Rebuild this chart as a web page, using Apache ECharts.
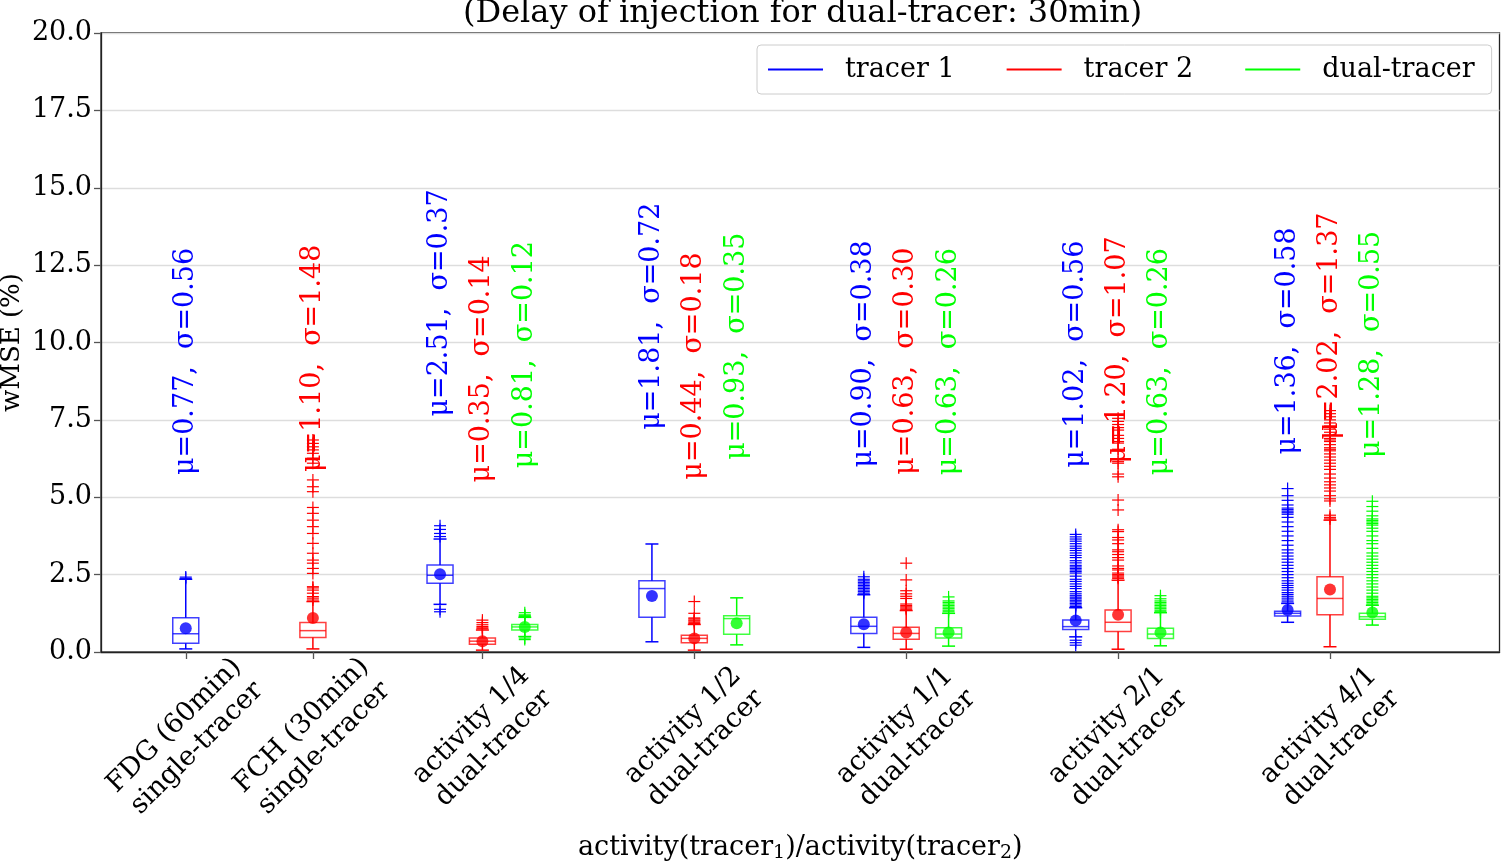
<!DOCTYPE html>
<html>
<head>
<meta charset="utf-8">
<script src="https://cdn.jsdelivr.net/npm/echarts@6/dist/echarts.min.js"></script>
<style>
  html, body { margin: 0; padding: 0; background: #fff; }
  #chart { width: 1501px; height: 861px; }
</style>
</head>
<body>
<div id="chart"></div>
<script>
// group names on the x axis
const groupLabels = [
  'FDG (60min)\nsingle-tracer',
  'FCH (30min)\nsingle-tracer',
  'activity 1/4\ndual-tracer',
  'activity 1/2\ndual-tracer',
  'activity 1/1\ndual-tracer',
  'activity 2/1\ndual-tracer',
  'activity 4/1\ndual-tracer'
];

// box stats: [whisker low, q1, median, q3, whisker high]
const tracer1Stats = [
  [0.10, 0.28, 0.59, 1.11, 2.35],
  [1.54, 2.22, 2.48, 2.81, 3.65],
  [0.33, 1.12, 2.05, 2.30, 3.49],
  [0.15, 0.60, 0.83, 1.12, 1.85],
  [0.49, 0.73, 0.82, 1.03, 1.43],
  [0.96, 1.16, 1.25, 1.32, 1.57]
];
const tracer1Mean = [0.77, 2.51, 1.81, 0.90, 1.02, 1.36];
const tracer1Sd = [0.56, 0.37, 0.72, 0.38, 0.56, 0.58];
const tracer1Outliers = [
  [2.38, 2.42],
  [1.30, 1.38, 3.73, 3.83, 3.96, 4.08],
  [],
  [1.90, 1.95, 2.00, 2.05, 2.10, 2.15, 2.20, 2.25, 2.30, 2.35, 2.43],
  [0.22, 0.30, 0.38, 1.47, 1.52, 1.57, 1.62, 1.67, 1.72, 1.77, 1.82, 1.88, 1.95, 2.05, 2.12, 2.20, 2.28,
   2.35, 2.45, 2.55, 2.60, 2.65, 2.70, 2.75, 2.80, 2.88, 2.95, 3.05, 3.12, 3.20, 3.28, 3.35, 3.42,
   3.50, 3.58, 3.65, 3.72, 3.80],
  [1.62, 1.68, 1.74, 1.80, 1.86, 1.92, 2.00, 2.08, 2.15, 2.22, 2.30, 2.40, 2.50, 2.60, 2.70, 2.80,
   2.90, 3.00, 3.10, 3.20, 3.30, 3.45, 3.60, 3.75, 3.90, 4.05, 4.20, 4.35, 4.45, 4.50, 4.55, 4.60,
   4.65, 4.75, 4.90, 5.05, 5.28]
];

const tracer2Stats = [
  [0.10, 0.47, 0.69, 0.95, 1.63],
  [0.06, 0.25, 0.35, 0.45, 0.71],
  [0.06, 0.30, 0.44, 0.54, 0.89],
  [0.09, 0.41, 0.60, 0.80, 1.34],
  [0.09, 0.66, 0.96, 1.36, 2.32],
  [0.17, 1.20, 1.73, 2.43, 4.26]
];
const tracer2Mean = [1.10, 0.35, 0.44, 0.63, 1.20, 2.02];
const tracer2Sd = [1.48, 0.14, 0.18, 0.30, 1.07, 1.37];
const tracer2Outliers = [
  [1.68, 1.74, 1.79, 1.90, 2.00, 2.07, 2.11, 2.54, 2.70, 2.87, 2.97, 3.19, 3.51, 3.83, 4.05, 4.26,
   4.48, 4.67, 5.18, 5.34, 5.56, 6.10, 6.26, 6.42, 6.53, 6.63, 6.74, 6.85],
  [0.75, 0.78, 0.82, 0.88, 0.95, 1.03],
  [0.92, 0.96, 1.00, 1.03, 1.07, 1.10, 1.25, 1.63],
  [1.38, 1.42, 1.46, 1.50, 1.55, 1.73, 1.80, 1.88, 1.98, 2.33, 2.87],
  [2.38, 2.42, 2.46, 2.50, 2.55, 2.65, 2.70, 2.78, 2.97, 3.05, 3.15, 3.24, 3.30, 3.50, 3.62, 3.70,
   3.89, 3.95, 4.59, 4.91, 5.66, 5.75, 6.10, 6.15, 6.50, 6.55, 6.75, 6.80, 6.90, 7.00, 7.17, 7.25,
   7.35, 7.45, 7.55],
  [4.30, 4.35, 4.42, 4.88, 4.95, 5.05, 5.20, 5.30, 5.40, 5.50, 5.62, 5.75, 5.90, 6.00, 6.10, 6.20,
   6.30, 6.40, 6.50, 6.55, 6.60, 6.70, 6.80, 6.85, 6.90, 7.00, 7.10, 7.20, 7.30, 7.40, 7.50, 7.60,
   7.70, 7.80]
];

const dualStats = [
  [0.50, 0.71, 0.81, 0.89, 1.12],
  [0.23, 0.57, 1.08, 1.17, 1.75],
  [0.19, 0.45, 0.58, 0.78, 1.25],
  [0.20, 0.44, 0.58, 0.77, 1.27],
  [0.87, 1.06, 1.14, 1.25, 1.51]
];
const dualMean = [0.81, 0.93, 0.63, 0.63, 1.28];
const dualSd = [0.12, 0.35, 0.26, 0.26, 0.55];
const dualOutliers = [
  [0.40, 0.45, 1.15, 1.17, 1.20, 1.27],
  [],
  [1.30, 1.35, 1.40, 1.45, 1.50, 1.55, 1.60, 1.65, 1.78],
  [1.30, 1.35, 1.40, 1.45, 1.50, 1.55, 1.60, 1.65, 1.72, 1.82],
  [1.55, 1.60, 1.65, 1.70, 1.75, 1.80, 1.90, 2.00, 2.10, 2.20, 2.30, 2.40, 2.50, 2.60, 2.70, 2.80,
   2.90, 3.00, 3.10, 3.20, 3.35, 3.50, 3.60, 3.75, 3.90, 4.00, 4.10, 4.15, 4.20, 4.25, 4.30, 4.40,
   4.55, 4.70, 4.87]
];

// layout: the x axis is cut in slots of 0.2 (matplotlib positions)
const SLOT_COUNT = 34;
const groupSlots = [2, 5, 9, 14, 19, 24, 29];
const tracer1Slots = [2, 8, 13, 18, 23, 28];
const tracer2Slots = [5, 9, 14, 19, 24, 29];
const dualSlots = [10, 15, 20, 25, 30];

const FONT = '"DejaVu Serif", "Liberation Serif", serif';
const FS = 27;
const BOX_W = 26;
const LABEL_OFFSET = 8.8; // label centre sits this far above the median

const categories = [];
for (let i = 0; i < SLOT_COUNT; i++) {
  const g = groupSlots.indexOf(i);
  categories.push(g >= 0 ? groupLabels[g] : '');
}

function boxRender(color) {
  return function (params, api) {
    const x = api.value(0);
    const lo = api.coord([x, api.value(1)]);
    const q1 = api.coord([x, api.value(2)]);
    const md = api.coord([x, api.value(3)]);
    const q3 = api.coord([x, api.value(4)]);
    const hi = api.coord([x, api.value(5)]);
    const cx = lo[0];
    const hw = BOX_W / 2;
    const cw = BOX_W / 4;
    const line = (x1, y1, x2, y2, stroke) => ({
      type: 'line',
      shape: {x1, y1, x2, y2},
      style: {stroke: stroke, lineWidth: 1.5}
    });
    const edge = color.replace('rgb', 'rgba').replace(')', ',0.75)');
    return {
      type: 'group',
      children: [
        line(cx, q1[1], cx, lo[1], color),
        line(cx, q3[1], cx, hi[1], color),
        line(cx - cw, lo[1], cx + cw, lo[1], color),
        line(cx - cw, hi[1], cx + cw, hi[1], color),
        {
          type: 'rect',
          shape: {x: cx - hw, y: q3[1], width: BOX_W, height: q1[1] - q3[1]},
          style: {fill: 'none', stroke: edge, lineWidth: 1.5}
        },
        line(cx - hw, md[1], cx + hw, md[1], edge)
      ]
    };
  };
}

function plusRender(color) {
  return function (params, api) {
    const p = api.coord([api.value(0), api.value(1)]);
    return {
      type: 'group',
      children: [
        {type: 'line', shape: {x1: p[0] - 6, y1: p[1], x2: p[0] + 6, y2: p[1]},
          style: {stroke: color, lineWidth: 1.2}},
        {type: 'line', shape: {x1: p[0], y1: p[1] - 6, x2: p[0], y2: p[1] + 6},
          style: {stroke: color, lineWidth: 1.2}}
      ]
    };
  };
}

function labelRender(color) {
  return function (params, api) {
    const p = api.coord([api.value(0), api.value(1) + LABEL_OFFSET]);
    const txt = 'μ=' + api.value(2).toFixed(2) + ',  σ=' + api.value(3).toFixed(2);
    return {
      type: 'text',
      x: p[0],
      y: p[1],
      rotation: Math.PI / 2,
      style: {
        text: txt,
        fill: color,
        font: FS + 'px ' + FONT,
        align: 'center',
        verticalAlign: 'middle'
      }
    };
  };
}

function makeSeries(name, color, slots, stats, means, sds, outliers) {
  const boxData = stats.map((s, i) => [slots[i]].concat(s));
  const outData = [];
  outliers.forEach((list, i) => list.forEach((v) => outData.push([slots[i], v])));
  return [
    {
      name: name,
      type: 'custom',
      renderItem: boxRender(color),
      itemStyle: {color: color},
      encode: {x: 0, y: [1, 2, 3, 4, 5]},
      data: boxData,
      z: 2
    },
    {
      name: name + ' outliers',
      type: 'custom',
      renderItem: plusRender(color),
      encode: {x: 0, y: 1},
      data: outData,
      z: 2
    },
    {
      name: name + ' mean',
      type: 'scatter',
      symbol: 'circle',
      symbolSize: 12,
      itemStyle: {color: color},
      data: means.map((m, i) => [slots[i], m]),
      z: 4
    },
    {
      name: name + ' labels',
      type: 'custom',
      renderItem: labelRender(color),
      encode: {x: 0, y: 1},
      data: stats.map((s, i) => [slots[i], s[2], means[i], sds[i]]),
      z: 5
    }
  ];
}

const chart = echarts.init(document.getElementById('chart'));

const option = {
  animation: false,
  backgroundColor: '#fff',
  textStyle: {fontFamily: FONT},
  title: {
    text: '(Delay of injection for dual-tracer: 30min)',
    left: 458,
    top: -7,
    textStyle: {fontFamily: FONT, fontSize: 32, fontWeight: 'normal', color: '#000'}
  },
  legend: {
    data: ['tracer 1', 'tracer 2', 'dual-tracer'],
    left: 757,
    top: 45,
    padding: [11, 17, 11, 11],
    itemGap: 52,
    itemWidth: 55,
    itemHeight: 2,
    icon: 'rect',
    borderColor: '#cccccc',
    borderWidth: 1,
    borderRadius: 4,
    backgroundColor: '#fff',
    textStyle: {fontFamily: FONT, fontSize: FS, color: '#000', padding: [0, 0, 0, 17]}
  },
  grid: {
    left: 101,
    right: 1.5,
    top: 33,
    bottom: 209,
    show: true,
    borderColor: '#222',
    borderWidth: 1.3,
    containLabel: false,
    outerBoundsMode: 'none'
  },
  xAxis: {
    type: 'category',
    data: categories,
    boundaryGap: false,
    name: 'activity(tracer{sub|1})/activity(tracer{sub|2})',
    nameLocation: 'middle',
    nameGap: 180,
    nameMoveOverlap: false,
    nameTextStyle: {
      fontFamily: FONT,
      fontSize: FS,
      color: '#000',
      rich: {
        sub: {fontFamily: FONT, fontSize: 19, color: '#000', padding: [12, 0, 0, 0]}
      }
    },
    axisLine: {lineStyle: {color: '#222', width: 1.3}},
    axisTick: {
      length: 7,
      interval: (idx, val) => val !== '',
      lineStyle: {color: '#555', width: 1.3}
    },
    axisLabel: {
      interval: (idx, val) => val !== '',
      rotate: 45,
      align: 'center',
      verticalAlign: 'middle',
      margin: 85,
      fontFamily: FONT,
      fontSize: FS,
      lineHeight: 32,
      color: '#000'
    },
    splitLine: {show: false}
  },
  yAxis: {
    type: 'value',
    min: 0,
    max: 20,
    interval: 2.5,
    name: 'wMSE (%)',
    nameLocation: 'middle',
    nameGap: 76,
    nameMoveOverlap: false,
    nameTextStyle: {fontFamily: FONT, fontSize: 26, color: '#000'},
    axisLine: {show: true, lineStyle: {color: '#222', width: 1.3}},
    axisTick: {show: true, length: 7, lineStyle: {color: '#555', width: 1.3}},
    axisLabel: {
      formatter: (v) => v.toFixed(1),
      fontFamily: FONT,
      fontSize: FS,
      color: '#000',
      margin: 9
    },
    splitLine: {lineStyle: {color: '#dddddd', width: 1.3}}
  },
  series: [].concat(
    makeSeries('tracer 1', 'rgb(0,0,255)', tracer1Slots, tracer1Stats, tracer1Mean, tracer1Sd, tracer1Outliers),
    makeSeries('tracer 2', 'rgb(255,0,0)', tracer2Slots, tracer2Stats, tracer2Mean, tracer2Sd, tracer2Outliers),
    makeSeries('dual-tracer', 'rgb(0,255,0)', dualSlots, dualStats, dualMean, dualSd, dualOutliers)
  )
};

chart.setOption(option);
</script>
</body>
</html>
